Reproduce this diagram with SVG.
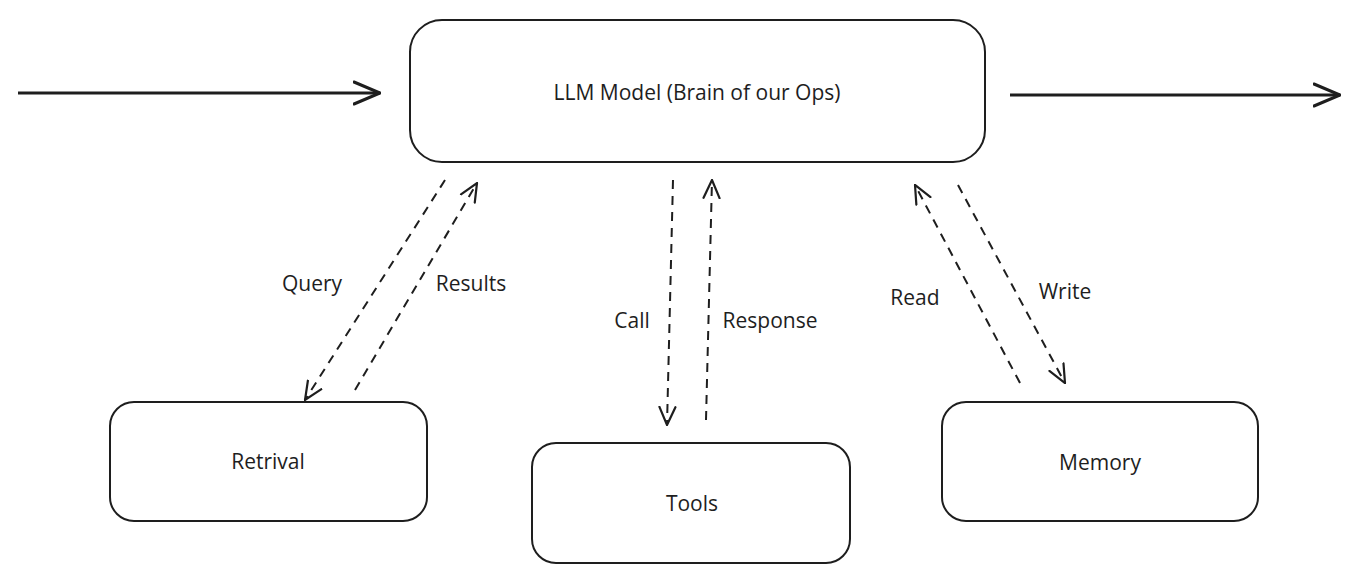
<svg xmlns="http://www.w3.org/2000/svg" width="1358" height="584" viewBox="0 0 1358 584">
<style>
.box{fill:#fff;stroke:#1e1e1e;stroke-width:2}
.t{font-family:"Open Sans",sans-serif;font-size:21px;fill:#1e1e1e;text-anchor:middle;dominant-baseline:central}
.s{stroke:#1e1e1e;stroke-width:3;fill:none}
.d{stroke:#1e1e1e;stroke-width:2;fill:none;stroke-dasharray:9 7}
</style>
<defs>
<marker id="a" viewBox="0 0 20 20" refX="19" refY="10" markerWidth="20" markerHeight="20" markerUnits="userSpaceOnUse" orient="auto"><path d="M1 2 L19 10 L1 18" fill="none" stroke="#1e1e1e" stroke-width="2.2" stroke-linecap="round"/></marker>
<marker id="b" viewBox="0 0 28 28" refX="27" refY="14" markerWidth="28" markerHeight="28" markerUnits="userSpaceOnUse" orient="auto"><path d="M1 3 L27 14 L1 25" fill="none" stroke="#1e1e1e" stroke-width="3" stroke-linecap="round"/></marker>
</defs>
<rect width="1358" height="584" fill="#fff"/>
<g id="llm"><rect class="box" x="410" y="20" width="575" height="142" rx="32"/><text class="t" x="697" y="92">LLM Model (Brain of our Ops)</text></g>
<g id="retrival"><rect class="box" x="110" y="402" width="317" height="119" rx="24"/><text class="t" x="268" y="461">Retrival</text></g>
<g id="tools"><rect class="box" x="532" y="443" width="318" height="120" rx="24"/><text class="t" x="692" y="503">Tools</text></g>
<g id="memory"><rect class="box" x="942" y="402" width="316" height="119" rx="24"/><text class="t" x="1100" y="462">Memory</text></g>
<g id="connectors">
<path class="s" d="M18 93 L380 93" marker-end="url(#b)"/>
<path class="s" d="M1010 95 L1340 95" marker-end="url(#b)"/>
<path class="d" d="M445 180 L305 400" marker-end="url(#a)"/>
<path class="d" d="M355 390 L477 183" marker-end="url(#a)"/>
<path class="d" d="M673 180 L667 425" marker-end="url(#a)"/>
<path class="d" d="M706 420 L712 180" marker-end="url(#a)"/>
<path class="d" d="M1020 383 L915 185" marker-end="url(#a)"/>
<path class="d" d="M958 185 L1065 383" marker-end="url(#a)"/>
<text class="t" x="312" y="283">Query</text>
<text class="t" x="471" y="283">Results</text>
<text class="t" x="632" y="320">Call</text>
<text class="t" x="770" y="320">Response</text>
<text class="t" x="915" y="297">Read</text>
<text class="t" x="1065" y="291">Write</text>
</g>
</svg>
